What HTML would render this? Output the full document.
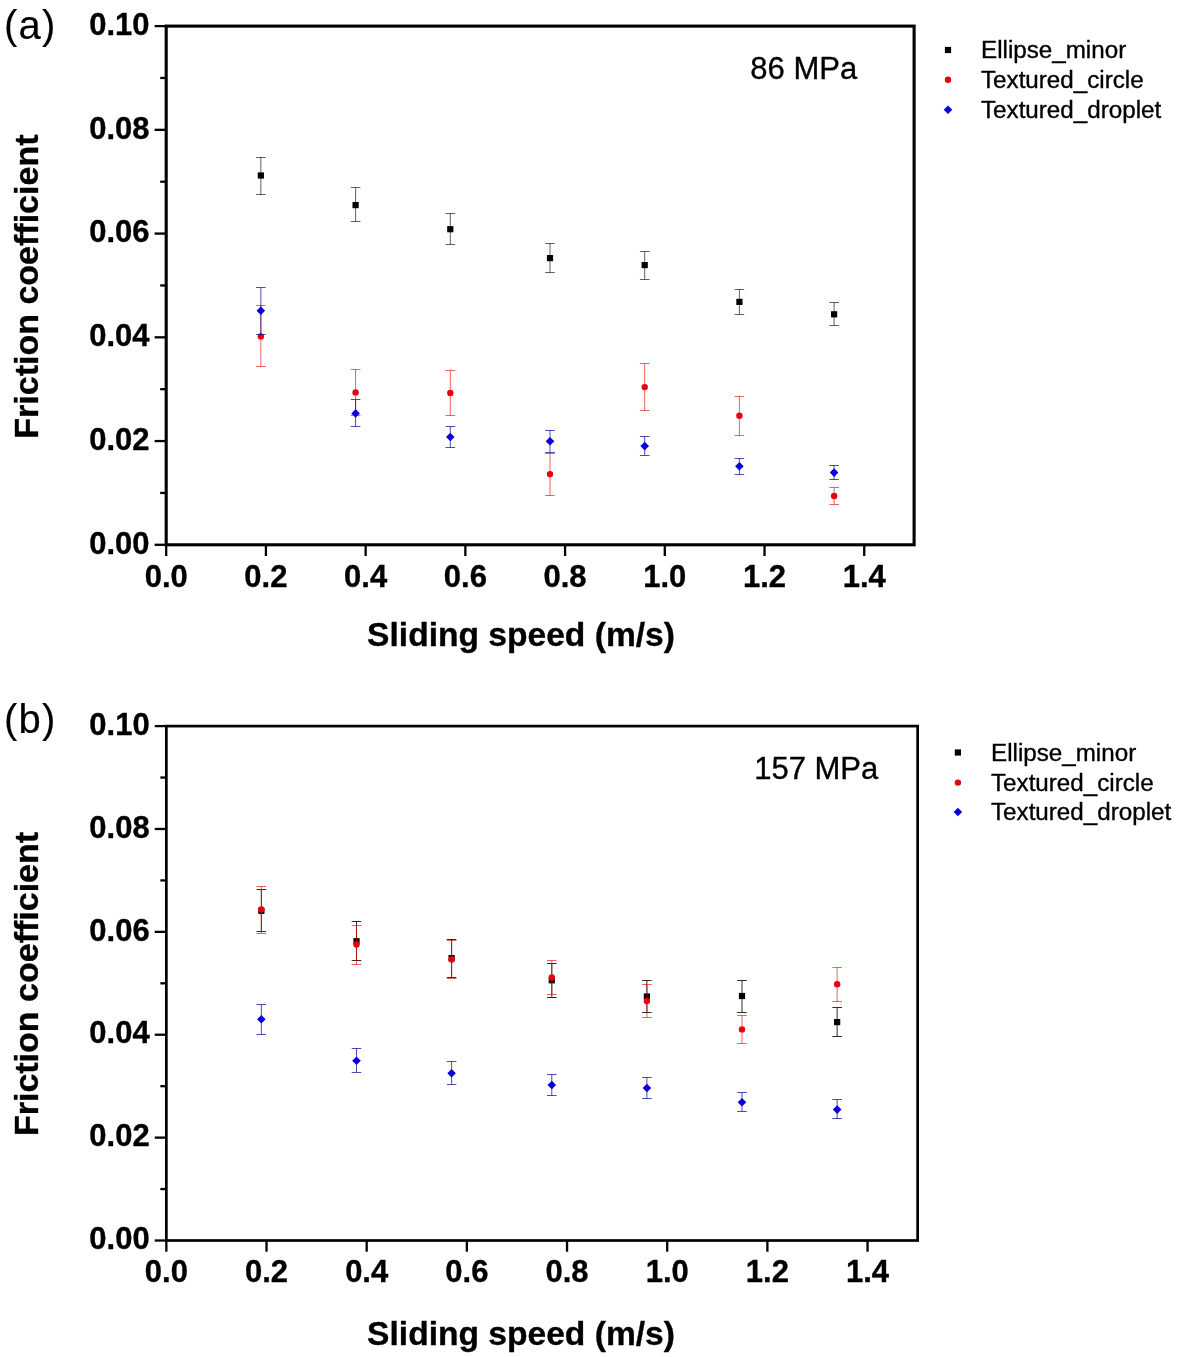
<!DOCTYPE html>
<html lang="en">
<head>
<meta charset="utf-8">
<title>Friction coefficient vs sliding speed</title>
<style>
html,body{margin:0;padding:0;background:#fff;}
body{width:1184px;height:1357px;overflow:hidden;}
svg{display:block;}
text{font-family:"Liberation Sans", Arial, sans-serif;fill:#000;stroke:#000;stroke-width:0.35px;stroke-linejoin:round;}
.tk{font-size:31px;font-weight:bold;}
.tt{font-size:33.6px;font-weight:bold;}
.ty{font-size:34px;font-weight:bold;}
.pl{font-size:40px;letter-spacing:1.3px;stroke-width:0.15px;}
.an{font-size:31px;}
.lg{font-size:24.2px;}
</style>
</head>
<body>
<svg width="1184" height="1357" viewBox="0 0 1184 1357">
<rect x="0" y="0" width="1184" height="1357" fill="#fff"/>
<g id="panel-a">
<rect x="166.20" y="26.10" width="747.90" height="518.70" fill="none" stroke="#000" stroke-width="3.1"/>
<line x1="154.60" y1="544.80" x2="166.20" y2="544.80" stroke="#000" stroke-width="2.3"/>
<text x="149.50" y="553.50" text-anchor="end" class="tk">0.00</text>
<line x1="160.20" y1="492.93" x2="166.20" y2="492.93" stroke="#000" stroke-width="2.3"/>
<line x1="154.60" y1="441.06" x2="166.20" y2="441.06" stroke="#000" stroke-width="2.3"/>
<text x="149.50" y="449.76" text-anchor="end" class="tk">0.02</text>
<line x1="160.20" y1="389.19" x2="166.20" y2="389.19" stroke="#000" stroke-width="2.3"/>
<line x1="154.60" y1="337.32" x2="166.20" y2="337.32" stroke="#000" stroke-width="2.3"/>
<text x="149.50" y="346.02" text-anchor="end" class="tk">0.04</text>
<line x1="160.20" y1="285.45" x2="166.20" y2="285.45" stroke="#000" stroke-width="2.3"/>
<line x1="154.60" y1="233.58" x2="166.20" y2="233.58" stroke="#000" stroke-width="2.3"/>
<text x="149.50" y="242.28" text-anchor="end" class="tk">0.06</text>
<line x1="160.20" y1="181.71" x2="166.20" y2="181.71" stroke="#000" stroke-width="2.3"/>
<line x1="154.60" y1="129.84" x2="166.20" y2="129.84" stroke="#000" stroke-width="2.3"/>
<text x="149.50" y="138.54" text-anchor="end" class="tk">0.08</text>
<line x1="160.20" y1="77.97" x2="166.20" y2="77.97" stroke="#000" stroke-width="2.3"/>
<line x1="154.60" y1="26.10" x2="166.20" y2="26.10" stroke="#000" stroke-width="2.3"/>
<text x="149.50" y="34.80" text-anchor="end" class="tk">0.10</text>
<line x1="166.20" y1="544.80" x2="166.20" y2="556.00" stroke="#000" stroke-width="2.3"/>
<text x="166.20" y="586.50" text-anchor="middle" class="tk">0.0</text>
<line x1="265.92" y1="544.80" x2="265.92" y2="556.00" stroke="#000" stroke-width="2.3"/>
<text x="265.92" y="586.50" text-anchor="middle" class="tk">0.2</text>
<line x1="365.64" y1="544.80" x2="365.64" y2="556.00" stroke="#000" stroke-width="2.3"/>
<text x="365.64" y="586.50" text-anchor="middle" class="tk">0.4</text>
<line x1="465.36" y1="544.80" x2="465.36" y2="556.00" stroke="#000" stroke-width="2.3"/>
<text x="465.36" y="586.50" text-anchor="middle" class="tk">0.6</text>
<line x1="565.08" y1="544.80" x2="565.08" y2="556.00" stroke="#000" stroke-width="2.3"/>
<text x="565.08" y="586.50" text-anchor="middle" class="tk">0.8</text>
<line x1="664.80" y1="544.80" x2="664.80" y2="556.00" stroke="#000" stroke-width="2.3"/>
<text x="664.80" y="586.50" text-anchor="middle" class="tk">1.0</text>
<line x1="764.52" y1="544.80" x2="764.52" y2="556.00" stroke="#000" stroke-width="2.3"/>
<text x="764.52" y="586.50" text-anchor="middle" class="tk">1.2</text>
<line x1="864.24" y1="544.80" x2="864.24" y2="556.00" stroke="#000" stroke-width="2.3"/>
<text x="864.24" y="586.50" text-anchor="middle" class="tk">1.4</text>
<text x="521.00" y="645.60" text-anchor="middle" class="tt">Sliding speed (m/s)</text>
<text transform="translate(38.20,286.60) rotate(-90)" text-anchor="middle" class="ty">Friction coefficient</text>
<text x="3.90" y="38.90" class="pl">(a)</text>
<text x="750.30" y="79.30" class="an">86 MPa</text>
<rect x="944.90" y="46.90" width="6.20" height="6.20" fill="#000"/>
<text x="981.00" y="58.30" class="lg">Ellipse_minor</text>
<circle cx="948.00" cy="79.80" r="3.2" fill="#e8000a"/>
<text x="981.00" y="87.90" class="lg">Textured_circle</text>
<path d="M948.00 105.50L952.30 109.80L948.00 114.10L943.70 109.80Z" fill="#0a00d8"/>
<text x="981.00" y="117.50" class="lg">Textured_droplet</text>
<path d="M260.85 157.50V194.50M256.05 157.50H265.65M256.05 194.50H265.65" stroke="#000" stroke-opacity="0.62" stroke-width="1" fill="none"/>
<path d="M355.60 187.50V221.50M350.80 187.50H360.40M350.80 221.50H360.40" stroke="#000" stroke-opacity="0.62" stroke-width="1" fill="none"/>
<path d="M450.30 213.50V244.50M445.50 213.50H455.10M445.50 244.50H455.10" stroke="#000" stroke-opacity="0.62" stroke-width="1" fill="none"/>
<path d="M550.00 243.50V272.50M545.20 243.50H554.80M545.20 272.50H554.80" stroke="#000" stroke-opacity="0.62" stroke-width="1" fill="none"/>
<path d="M644.70 251.50V279.50M639.90 251.50H649.50M639.90 279.50H649.50" stroke="#000" stroke-opacity="0.62" stroke-width="1" fill="none"/>
<path d="M739.40 289.50V314.50M734.60 289.50H744.20M734.60 314.50H744.20" stroke="#000" stroke-opacity="0.62" stroke-width="1" fill="none"/>
<path d="M834.10 302.50V325.50M829.30 302.50H838.90M829.30 325.50H838.90" stroke="#000" stroke-opacity="0.62" stroke-width="1" fill="none"/>
<rect x="257.75" y="172.40" width="6.20" height="6.20" fill="#000"/>
<rect x="352.50" y="202.00" width="6.20" height="6.20" fill="#000"/>
<rect x="447.20" y="226.10" width="6.20" height="6.20" fill="#000"/>
<rect x="546.90" y="255.00" width="6.20" height="6.20" fill="#000"/>
<rect x="641.60" y="262.00" width="6.20" height="6.20" fill="#000"/>
<rect x="736.30" y="298.80" width="6.20" height="6.20" fill="#000"/>
<rect x="831.00" y="311.20" width="6.20" height="6.20" fill="#000"/>
<path d="M260.85 305.50V366.50M256.05 305.50H265.65M256.05 366.50H265.65" stroke="#e60000" stroke-opacity="0.62" stroke-width="1" fill="none"/>
<path d="M355.60 369.50V415.50M350.80 369.50H360.40M350.80 415.50H360.40" stroke="#e60000" stroke-opacity="0.62" stroke-width="1" fill="none"/>
<path d="M450.30 370.50V415.50M445.50 370.50H455.10M445.50 415.50H455.10" stroke="#e60000" stroke-opacity="0.62" stroke-width="1" fill="none"/>
<path d="M550.00 453.50V495.50M545.20 453.50H554.80M545.20 495.50H554.80" stroke="#e60000" stroke-opacity="0.62" stroke-width="1" fill="none"/>
<path d="M644.70 363.50V410.50M639.90 363.50H649.50M639.90 410.50H649.50" stroke="#e60000" stroke-opacity="0.62" stroke-width="1" fill="none"/>
<path d="M739.40 396.50V435.50M734.60 396.50H744.20M734.60 435.50H744.20" stroke="#e60000" stroke-opacity="0.62" stroke-width="1" fill="none"/>
<path d="M834.10 487.50V504.50M829.30 487.50H838.90M829.30 504.50H838.90" stroke="#e60000" stroke-opacity="0.62" stroke-width="1" fill="none"/>
<circle cx="260.85" cy="336.40" r="3.2" fill="#e8000a"/>
<circle cx="355.60" cy="392.40" r="3.2" fill="#e8000a"/>
<circle cx="450.30" cy="392.90" r="3.2" fill="#e8000a"/>
<circle cx="550.00" cy="474.10" r="3.2" fill="#e8000a"/>
<circle cx="644.70" cy="387.10" r="3.2" fill="#e8000a"/>
<circle cx="739.40" cy="415.70" r="3.2" fill="#e8000a"/>
<circle cx="834.10" cy="496.00" r="3.2" fill="#e8000a"/>
<path d="M260.85 287.50V334.50M256.05 287.50H265.65M256.05 334.50H265.65" stroke="#000096" stroke-opacity="0.7" stroke-width="1" fill="none"/>
<path d="M355.60 399.50V426.50M350.80 399.50H360.40M350.80 426.50H360.40" stroke="#000096" stroke-opacity="0.7" stroke-width="1" fill="none"/>
<path d="M450.30 426.50V447.50M445.50 426.50H455.10M445.50 447.50H455.10" stroke="#000096" stroke-opacity="0.7" stroke-width="1" fill="none"/>
<path d="M550.00 430.50V452.50M545.20 430.50H554.80M545.20 452.50H554.80" stroke="#000096" stroke-opacity="0.7" stroke-width="1" fill="none"/>
<path d="M644.70 436.50V455.50M639.90 436.50H649.50M639.90 455.50H649.50" stroke="#000096" stroke-opacity="0.7" stroke-width="1" fill="none"/>
<path d="M739.40 458.50V474.50M734.60 458.50H744.20M734.60 474.50H744.20" stroke="#000096" stroke-opacity="0.7" stroke-width="1" fill="none"/>
<path d="M834.10 465.50V479.50M829.30 465.50H838.90M829.30 479.50H838.90" stroke="#000096" stroke-opacity="0.7" stroke-width="1" fill="none"/>
<path d="M260.85 306.50L265.15 310.80L260.85 315.10L256.55 310.80Z" fill="#0a00d8"/>
<path d="M355.60 409.10L359.90 413.40L355.60 417.70L351.30 413.40Z" fill="#0a00d8"/>
<path d="M450.30 432.70L454.60 437.00L450.30 441.30L446.00 437.00Z" fill="#0a00d8"/>
<path d="M550.00 436.90L554.30 441.20L550.00 445.50L545.70 441.20Z" fill="#0a00d8"/>
<path d="M644.70 441.80L649.00 446.10L644.70 450.40L640.40 446.10Z" fill="#0a00d8"/>
<path d="M739.40 461.90L743.70 466.20L739.40 470.50L735.10 466.20Z" fill="#0a00d8"/>
<path d="M834.10 468.30L838.40 472.60L834.10 476.90L829.80 472.60Z" fill="#0a00d8"/>
</g>
<g id="panel-b">
<rect x="166.35" y="726.10" width="751.29" height="514.40" fill="none" stroke="#000" stroke-width="2.7"/>
<line x1="154.75" y1="1240.50" x2="166.35" y2="1240.50" stroke="#000" stroke-width="2.3"/>
<text x="149.70" y="1249.20" text-anchor="end" class="tk">0.00</text>
<line x1="160.35" y1="1189.06" x2="166.35" y2="1189.06" stroke="#000" stroke-width="2.3"/>
<line x1="154.75" y1="1137.62" x2="166.35" y2="1137.62" stroke="#000" stroke-width="2.3"/>
<text x="149.70" y="1146.32" text-anchor="end" class="tk">0.02</text>
<line x1="160.35" y1="1086.18" x2="166.35" y2="1086.18" stroke="#000" stroke-width="2.3"/>
<line x1="154.75" y1="1034.74" x2="166.35" y2="1034.74" stroke="#000" stroke-width="2.3"/>
<text x="149.70" y="1043.44" text-anchor="end" class="tk">0.04</text>
<line x1="160.35" y1="983.30" x2="166.35" y2="983.30" stroke="#000" stroke-width="2.3"/>
<line x1="154.75" y1="931.86" x2="166.35" y2="931.86" stroke="#000" stroke-width="2.3"/>
<text x="149.70" y="940.56" text-anchor="end" class="tk">0.06</text>
<line x1="160.35" y1="880.42" x2="166.35" y2="880.42" stroke="#000" stroke-width="2.3"/>
<line x1="154.75" y1="828.98" x2="166.35" y2="828.98" stroke="#000" stroke-width="2.3"/>
<text x="149.70" y="837.68" text-anchor="end" class="tk">0.08</text>
<line x1="160.35" y1="777.54" x2="166.35" y2="777.54" stroke="#000" stroke-width="2.3"/>
<line x1="154.75" y1="726.10" x2="166.35" y2="726.10" stroke="#000" stroke-width="2.3"/>
<text x="149.70" y="734.80" text-anchor="end" class="tk">0.10</text>
<line x1="166.35" y1="1240.50" x2="166.35" y2="1251.70" stroke="#000" stroke-width="2.3"/>
<text x="166.35" y="1281.50" text-anchor="middle" class="tk">0.0</text>
<line x1="266.52" y1="1240.50" x2="266.52" y2="1251.70" stroke="#000" stroke-width="2.3"/>
<text x="266.52" y="1281.50" text-anchor="middle" class="tk">0.2</text>
<line x1="366.69" y1="1240.50" x2="366.69" y2="1251.70" stroke="#000" stroke-width="2.3"/>
<text x="366.69" y="1281.50" text-anchor="middle" class="tk">0.4</text>
<line x1="466.86" y1="1240.50" x2="466.86" y2="1251.70" stroke="#000" stroke-width="2.3"/>
<text x="466.86" y="1281.50" text-anchor="middle" class="tk">0.6</text>
<line x1="567.04" y1="1240.50" x2="567.04" y2="1251.70" stroke="#000" stroke-width="2.3"/>
<text x="567.04" y="1281.50" text-anchor="middle" class="tk">0.8</text>
<line x1="667.21" y1="1240.50" x2="667.21" y2="1251.70" stroke="#000" stroke-width="2.3"/>
<text x="667.21" y="1281.50" text-anchor="middle" class="tk">1.0</text>
<line x1="767.38" y1="1240.50" x2="767.38" y2="1251.70" stroke="#000" stroke-width="2.3"/>
<text x="767.38" y="1281.50" text-anchor="middle" class="tk">1.2</text>
<line x1="867.55" y1="1240.50" x2="867.55" y2="1251.70" stroke="#000" stroke-width="2.3"/>
<text x="867.55" y="1281.50" text-anchor="middle" class="tk">1.4</text>
<text x="521.00" y="1344.70" text-anchor="middle" class="tt">Sliding speed (m/s)</text>
<text transform="translate(38.30,984.00) rotate(-90)" text-anchor="middle" class="ty">Friction coefficient</text>
<text x="3.90" y="732.50" class="pl">(b)</text>
<text x="754.20" y="778.80" class="an">157 MPa</text>
<rect x="954.80" y="749.40" width="6.20" height="6.20" fill="#000"/>
<text x="991.00" y="760.50" class="lg">Ellipse_minor</text>
<circle cx="957.90" cy="782.60" r="3.2" fill="#e8000a"/>
<text x="991.00" y="790.50" class="lg">Textured_circle</text>
<path d="M957.90 807.70L962.20 812.00L957.90 816.30L953.60 812.00Z" fill="#0a00d8"/>
<text x="991.00" y="819.70" class="lg">Textured_droplet</text>
<path d="M261.35 889.50V931.50M256.55 889.50H266.15M256.55 931.50H266.15" stroke="#000" stroke-opacity="0.82" stroke-width="1" fill="none"/>
<path d="M356.50 921.50V960.50M351.70 921.50H361.30M351.70 960.50H361.30" stroke="#000" stroke-opacity="0.82" stroke-width="1" fill="none"/>
<path d="M451.60 939.50V977.50M446.80 939.50H456.40M446.80 977.50H456.40" stroke="#000" stroke-opacity="0.82" stroke-width="1" fill="none"/>
<path d="M551.80 963.50V997.50M547.00 963.50H556.60M547.00 997.50H556.60" stroke="#000" stroke-opacity="0.82" stroke-width="1" fill="none"/>
<path d="M646.90 980.50V1012.50M642.10 980.50H651.70M642.10 1012.50H651.70" stroke="#000" stroke-opacity="0.82" stroke-width="1" fill="none"/>
<path d="M742.00 980.50V1012.50M737.20 980.50H746.80M737.20 1012.50H746.80" stroke="#000" stroke-opacity="0.82" stroke-width="1" fill="none"/>
<path d="M837.15 1007.50V1036.50M832.35 1007.50H841.95M832.35 1036.50H841.95" stroke="#000" stroke-opacity="0.82" stroke-width="1" fill="none"/>
<rect x="258.25" y="907.70" width="6.20" height="6.20" fill="#000"/>
<rect x="353.40" y="938.10" width="6.20" height="6.20" fill="#000"/>
<rect x="448.50" y="955.00" width="6.20" height="6.20" fill="#000"/>
<rect x="548.70" y="977.20" width="6.20" height="6.20" fill="#000"/>
<rect x="643.80" y="993.40" width="6.20" height="6.20" fill="#000"/>
<rect x="738.90" y="992.90" width="6.20" height="6.20" fill="#000"/>
<rect x="834.05" y="1019.00" width="6.20" height="6.20" fill="#000"/>
<path d="M261.35 886.50V933.50M256.55 886.50H266.15M256.55 933.50H266.15" stroke="#e60000" stroke-opacity="0.62" stroke-width="1" fill="none"/>
<path d="M356.50 925.50V964.50M351.70 925.50H361.30M351.70 964.50H361.30" stroke="#e60000" stroke-opacity="0.62" stroke-width="1" fill="none"/>
<path d="M451.60 940.50V978.50M446.80 940.50H456.40M446.80 978.50H456.40" stroke="#e60000" stroke-opacity="0.62" stroke-width="1" fill="none"/>
<path d="M551.80 960.50V994.50M547.00 960.50H556.60M547.00 994.50H556.60" stroke="#e60000" stroke-opacity="0.62" stroke-width="1" fill="none"/>
<path d="M646.90 984.50V1017.50M642.10 984.50H651.70M642.10 1017.50H651.70" stroke="#e60000" stroke-opacity="0.62" stroke-width="1" fill="none"/>
<path d="M742.00 1015.50V1043.50M737.20 1015.50H746.80M737.20 1043.50H746.80" stroke="#e60000" stroke-opacity="0.62" stroke-width="1" fill="none"/>
<path d="M837.15 967.50V1001.50M832.35 967.50H841.95M832.35 1001.50H841.95" stroke="#e60000" stroke-opacity="0.62" stroke-width="1" fill="none"/>
<circle cx="261.35" cy="909.40" r="3.2" fill="#e8000a"/>
<circle cx="356.50" cy="944.50" r="3.2" fill="#e8000a"/>
<circle cx="451.60" cy="959.50" r="3.2" fill="#e8000a"/>
<circle cx="551.80" cy="977.40" r="3.2" fill="#e8000a"/>
<circle cx="646.90" cy="1001.00" r="3.2" fill="#e8000a"/>
<circle cx="742.00" cy="1029.40" r="3.2" fill="#e8000a"/>
<circle cx="837.15" cy="984.20" r="3.2" fill="#e8000a"/>
<path d="M261.35 1004.50V1034.50M256.55 1004.50H266.15M256.55 1034.50H266.15" stroke="#000096" stroke-opacity="0.7" stroke-width="1" fill="none"/>
<path d="M356.50 1048.50V1072.50M351.70 1048.50H361.30M351.70 1072.50H361.30" stroke="#000096" stroke-opacity="0.7" stroke-width="1" fill="none"/>
<path d="M451.60 1061.50V1084.50M446.80 1061.50H456.40M446.80 1084.50H456.40" stroke="#000096" stroke-opacity="0.7" stroke-width="1" fill="none"/>
<path d="M551.80 1074.50V1095.50M547.00 1074.50H556.60M547.00 1095.50H556.60" stroke="#000096" stroke-opacity="0.7" stroke-width="1" fill="none"/>
<path d="M646.90 1077.50V1098.50M642.10 1077.50H651.70M642.10 1098.50H651.70" stroke="#000096" stroke-opacity="0.7" stroke-width="1" fill="none"/>
<path d="M742.00 1092.50V1111.50M737.20 1092.50H746.80M737.20 1111.50H746.80" stroke="#000096" stroke-opacity="0.7" stroke-width="1" fill="none"/>
<path d="M837.15 1099.50V1118.50M832.35 1099.50H841.95M832.35 1118.50H841.95" stroke="#000096" stroke-opacity="0.7" stroke-width="1" fill="none"/>
<path d="M261.35 1015.00L265.65 1019.30L261.35 1023.60L257.05 1019.30Z" fill="#0a00d8"/>
<path d="M356.50 1056.50L360.80 1060.80L356.50 1065.10L352.20 1060.80Z" fill="#0a00d8"/>
<path d="M451.60 1068.90L455.90 1073.20L451.60 1077.50L447.30 1073.20Z" fill="#0a00d8"/>
<path d="M551.80 1080.70L556.10 1085.00L551.80 1089.30L547.50 1085.00Z" fill="#0a00d8"/>
<path d="M646.90 1083.70L651.20 1088.00L646.90 1092.30L642.60 1088.00Z" fill="#0a00d8"/>
<path d="M742.00 1098.00L746.30 1102.30L742.00 1106.60L737.70 1102.30Z" fill="#0a00d8"/>
<path d="M837.15 1105.30L841.45 1109.60L837.15 1113.90L832.85 1109.60Z" fill="#0a00d8"/>
</g>
</svg>
</body>
</html>
